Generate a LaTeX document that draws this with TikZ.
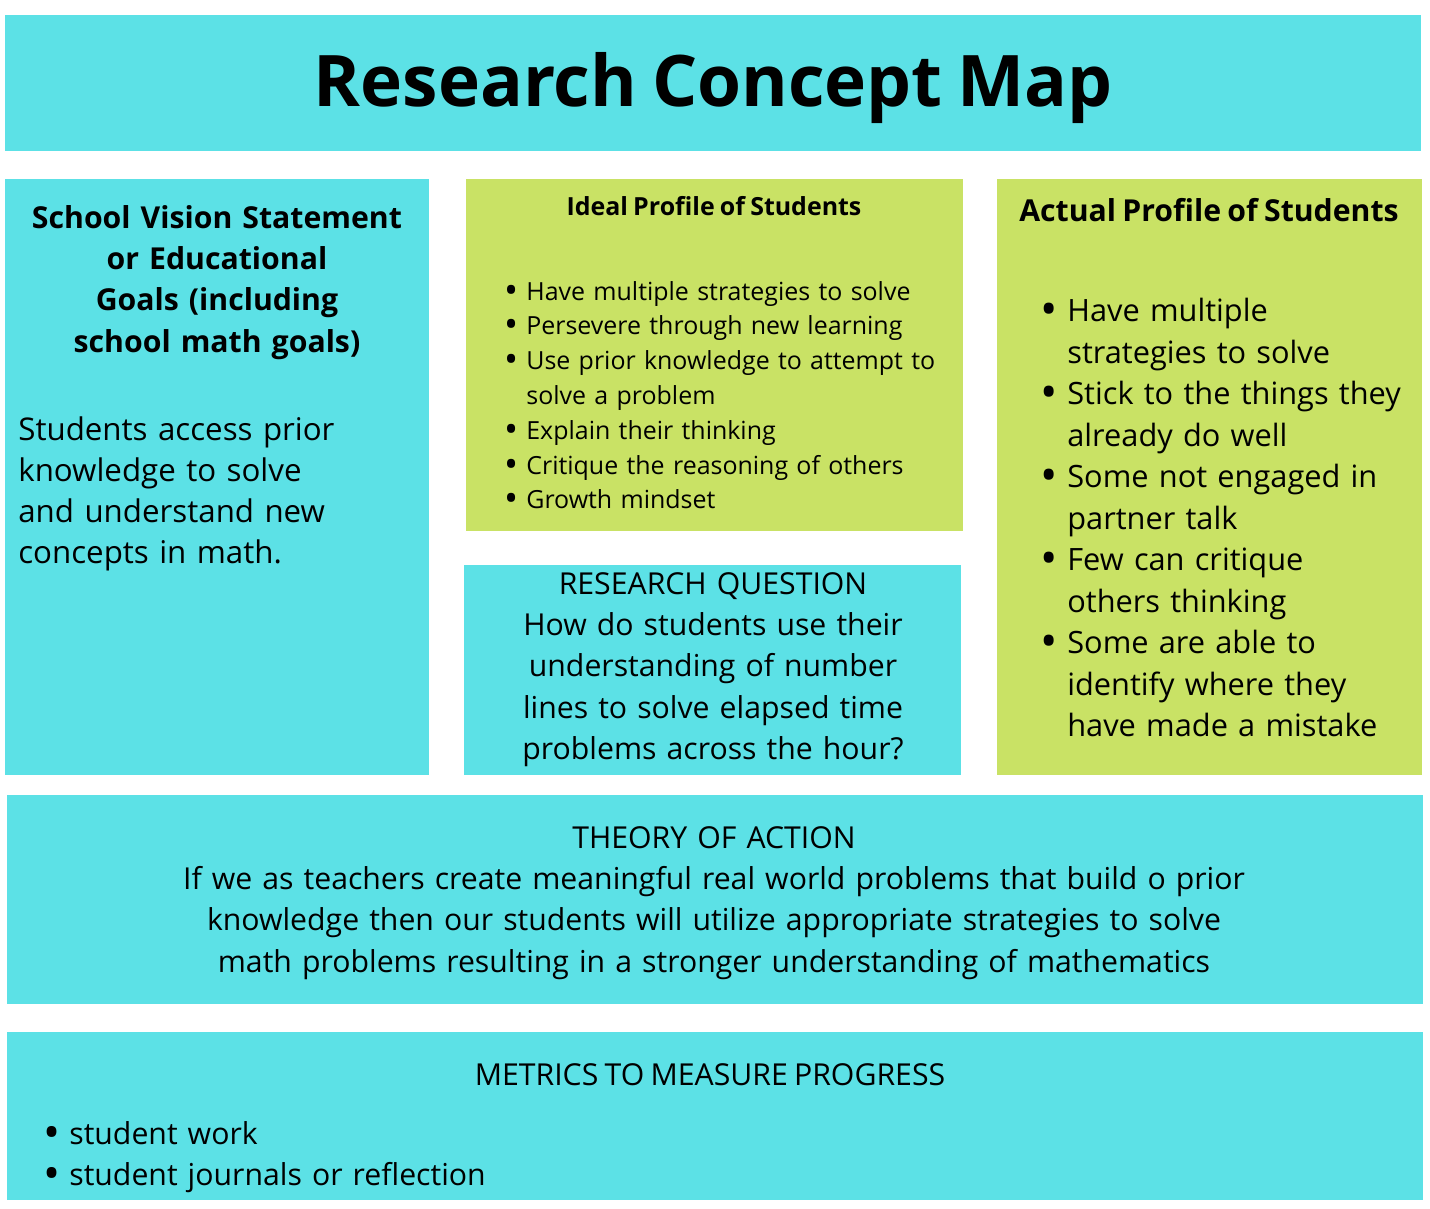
\documentclass[tikz,border=0pt]{standalone}
\usepackage{fontspec}
\setmainfont{Open Sans}[WordSpace={0.8,0,0}]
\usepackage{enumitem}
\usetikzlibrary{positioning}
\definecolor{cyanbox}{HTML}{5CE1E6}
\definecolor{limebox}{HTML}{C9E265}
\setlist[itemize]{labelsep=0.3em,itemsep=0pt,topsep=0pt,parsep=0pt,partopsep=0pt,label=\raisebox{-0.22ex}{\scalebox{1.5}{\textbullet}}}
\newcommand{\fs}[2]{\fontsize{#1}{#2}\selectfont}

\begin{document}
\hyphenpenalty=10000 \exhyphenpenalty=10000
\begin{tikzpicture}[x=0.02cm,y=-0.02cm,
	panel/.style={fill=#1,draw=none,inner sep=0pt,anchor=north west},
	words/.style={inner sep=0pt,anchor=north,align=center},
	listing/.style={inner sep=0pt,anchor=north west,align=left}
	]
\useasboundingbox (0,0) rectangle (1430,1208);
\fill[white] (0,0) rectangle (1430,1208);

% panels
\node[panel=cyanbox,minimum width=28.32cm,minimum height=2.72cm](title) at (5,15) {};
\node[panel=cyanbox,minimum width=8.48cm,minimum height=11.92cm](vision) at (5,179) {};
\node[panel=limebox,minimum width=9.94cm,minimum height=7.04cm](ideal) at (466,179) {};
\node[panel=cyanbox,minimum width=9.94cm,minimum height=4.2cm](question) at (464,565) {};
\node[panel=limebox,minimum width=8.5cm,minimum height=11.92cm](actual) at (997,179) {};
\node[panel=cyanbox,minimum width=28.32cm,minimum height=4.18cm](theory) at (7,795) {};
\node[panel=cyanbox,minimum width=28.32cm,minimum height=3.36cm](metrics) at (7,1032) {};

% texts
\node[inner sep=0pt,font=\fs{40.5}{48}\bfseries](titletext) at ([yshift=-0.1cm]title.center) {Research Concept Map};

\node[words,text width=7.8cm,font=\fs{17.2}{23.5}\bfseries](visionhead) at (217,205) {School Vision Statement or Educational Goals (including school math goals)};
\node[listing,text width=7.6cm,font=\fs{17.8}{23.5}](visionbody) at (18,416) {Students access prior knowledge to solve and understand new concepts in math.};

\node[words,font=\fs{14.2}{18}\bfseries](idealhead) at (714,196) {Ideal Profile of Students};
\node[listing,text width=8.8cm,font=\fs{14.2}{19.8}](ideallist) at (500,265) {
\begin{itemize}[leftmargin=0.52cm]
\item Have multiple strategies to solve
\item Persevere through new learning
\item Use prior knowledge to attempt to solve a problem
\item Explain their thinking
\item Critique the reasoning of others
\item Growth mindset
\end{itemize}};

\node[words,text width=9.6cm,font=\fs{17.2}{23.5}](questiontext) at (713,572) {RESEARCH QUESTION\\How do students use their understanding of number lines to solve elapsed time problems across the hour?};

\node[words,font=\fs{17.2}{23}\bfseries](actualhead) at (1209,198) {Actual Profile of Students};
\node[listing,text width=7.34cm,font=\fs{17.5}{23.6}](actuallist) at (1035,280) {
\begin{itemize}[leftmargin=0.64cm]
\item Have multiple strategies to solve
\item Stick to the things they already do well
\item Some not engaged in partner talk
\item Few can critique others thinking
\item Some are able to identify where they have made a mistake
\end{itemize}};

\node[words,text width=27.6cm,font=\fs{17.2}{23.5}](theorytext) at (714,826) {THEORY OF ACTION\\If we as teachers create meaningful real world problems that build o prior knowledge then our students will utilize appropriate strategies to solve math problems resulting in a stronger understanding of mathematics};

\node[words,font=\fs{17.2}{23.5}](metricshead) at (710,1063) {METRICS TO MEASURE PROGRESS};
\node[listing,text width=20cm,font=\fs{17.2}{23.5}](metricslist) at (38,1103) {
\begin{itemize}[leftmargin=0.62cm]
\item student work
\item student journals or reflection
\end{itemize}};
\end{tikzpicture}
\end{document}
